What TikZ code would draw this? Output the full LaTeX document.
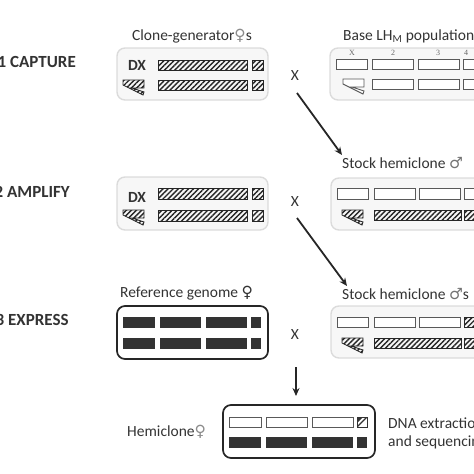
\documentclass[tikz,border=0pt]{standalone}
\usepackage{fontspec}
\setmainfont{Carlito}
\newfontfamily\symfont{DejaVu Sans}
\newfontfamily\chrfont{Liberation Serif}
\usetikzlibrary{patterns.meta,arrows.meta}
\definecolor{txt}{HTML}{333333}
\definecolor{dark}{HTML}{333333}
\newcommand\yshape[3]{\draw[#1] (#2,#3) -- ++(21,0) -- ++(0,8) -- ++(-12,0) -- ++(12,4) -- ++(-1,3) -- ++(-20,-10) -- cycle;}
\tikzset{
  panel/.style={draw=black!14, line width=1.4pt, rounded corners=8pt, fill=black!3},
  darkpanel/.style={draw=black!85, line width=1.7pt, rounded corners=8pt, fill=white},
  openchr/.style={draw=black!65, line width=0.9pt, fill=white},
  hatch/.style={draw=black!85, line width=0.8pt, pattern={Lines[angle=45,distance=3.6pt,line width=1.4pt]}, pattern color=black!85},
  solidchr/.style={fill=dark, draw=none},
  lbl/.style={font=\fontsize{15.5}{18}\selectfont, text=txt, inner sep=0pt},
  stagelbl/.style={font=\bfseries\fontsize{17}{20}\selectfont, text=txt, anchor=west, inner sep=0pt},
  dxlbl/.style={font=\bfseries\fontsize{15.5}{18}\selectfont, text=txt, inner sep=0pt},
  chrlbl/.style={font=\chrfont\fontsize{8}{9}\selectfont, text=black!60, inner sep=0pt},
  arr/.style={-{Stealth[length=8pt,width=7pt]}, line width=1.8pt, draw=black!85},
}
\begin{document}
\begin{tikzpicture}[x=1pt,y=-1pt]
\useasboundingbox (0,0) rectangle (474,474);
\clip (0,0) rectangle (474,474);
% stage labels
\node[stagelbl] (s1) at (-2.5,62) {1 CAPTURE};
\node[stagelbl] (s2) at (-5.5,192) {2 AMPLIFY};
\node[stagelbl] (s3) at (-4.5,320) {3 EXPRESS};
% headings
\node[lbl] (hcg) at (192,36) {Clone-generator{\symfont\color{black!45}♀}s};
\node[lbl, anchor=west] (hbase) at (343,36) {Base LH\textsubscript{M} population};
\node[lbl, anchor=west] (hst1) at (342,163) {Stock hemiclone {\symfont\color{black!55}♂}};
\node[lbl, anchor=west] (hst2) at (342,294) {Stock hemiclone {\symfont\color{black!55}♂}s};
\node[lbl, anchor=west] (href) at (120,293) {Reference genome {\symfont\color{txt}♀}};
\node[lbl, anchor=west] (hhemi) at (127,432) {Hemiclone{\symfont\color{black!45}♀}};
\node[lbl, anchor=west] (dna1) at (388,423) {DNA extraction};
\node[lbl, anchor=west] (dna2) at (388,442) {and sequencing};
% crosses
\node[lbl] (x1) at (295,76) {X};
\node[lbl] (x2) at (295,202) {X};
\node[lbl] (x3) at (295,335) {X};
% ---------- CAPTURE ----------
\draw[panel] (117,48) rectangle (268,100);
\node[dxlbl] (dx1) at (137,65) {DX};
\draw[hatch] (158,60) rectangle (247,70);
\draw[hatch] (252,60) rectangle (263,70);
\yshape{hatch}{123}{80}
\draw[hatch] (158,80) rectangle (247,90);
\draw[hatch] (252,80) rectangle (263,90);
\draw[panel] (330,48) rectangle (500,100);
\node[chrlbl] (cX) at (352,53) {X};
\node[chrlbl] (c2) at (393,53) {2};
\node[chrlbl] (c3) at (438,53) {3};
\node[chrlbl] (c4) at (466,53) {4};
\draw[openchr] (336,59) rectangle (367,69);
\draw[openchr] (372,59) rectangle (413,69);
\draw[openchr] (418,59) rectangle (459,69);
\draw[openchr] (463,59) rectangle (482,69);
\yshape{openchr}{343}{79}
\draw[openchr] (372,79) rectangle (413,89);
\draw[openchr] (418,79) rectangle (459,89);
\draw[openchr] (463,79) rectangle (482,89);
% ---------- AMPLIFY ----------
\draw[panel] (117,177) rectangle (268,230);
\node[dxlbl] (dx2) at (137,197) {DX};
\draw[hatch] (158,188) rectangle (247,199);
\draw[hatch] (252,188) rectangle (263,199);
\yshape{hatch}{123}{210}
\draw[hatch] (158,210) rectangle (247,221);
\draw[hatch] (252,210) rectangle (263,221);
\draw[panel] (331,178) rectangle (500,230);
\draw[openchr] (337,188) rectangle (368,199);
\draw[openchr] (374,188) rectangle (415,199);
\draw[openchr] (419,188) rectangle (460,199);
\draw[openchr] (464,188) rectangle (482,199);
\yshape{hatch}{342}{210}
\draw[hatch] (374,210) rectangle (461,220);
\draw[hatch] (464,210) rectangle (482,220);
% ---------- EXPRESS ----------
\draw[darkpanel] (117,306) rectangle (268,359);
\foreach \ya/\yb in {317/328, 338/349}{
  \fill[solidchr] (123,\ya) rectangle (155,\yb);
  \fill[solidchr] (160,\ya) rectangle (201,\yb);
  \fill[solidchr] (206,\ya) rectangle (247,\yb);
  \fill[solidchr] (251,\ya) rectangle (261,\yb);
}
\draw[panel] (331,306) rectangle (500,358);
\draw[openchr] (337,317) rectangle (368,327);
\draw[openchr] (374,317) rectangle (415,327);
\draw[openchr] (419,317) rectangle (460,327);
\draw[hatch] (464,317) rectangle (482,327);
\yshape{hatch}{342}{338}
\draw[hatch] (374,338) rectangle (461,348);
\draw[hatch] (464,338) rectangle (482,348);
% ---------- HEMICLONE ----------
\draw[darkpanel] (223,405) rectangle (375,458);
\draw[openchr] (229,417) rectangle (261,427);
\draw[openchr] (266,417) rectangle (307,427);
\draw[openchr] (312,417) rectangle (353,427);
\draw[openchr, line width=1pt, draw=dark] (357,417) rectangle (367,427);
\fill[dark] (357,417) -- (363,417) -- (357,423) -- cycle;
\draw[line width=1.2pt, dark] (357.5,426.5) -- (366.5,417.5);
\fill[solidchr] (229,437) rectangle (261,448);
\fill[solidchr] (266,437) rectangle (307,448);
\fill[solidchr] (312,437) rectangle (353,448);
\fill[solidchr] (357,437) rectangle (367,448);
% arrows
\coordinate (a1s) at (297,93);
\coordinate (a1e) at (342,155);
\coordinate (a2s) at (297,218);
\coordinate (a2e) at (347,286);
\coordinate (a3s) at (296,367);
\coordinate (a3e) at (296,396);
\draw[arr] (a1s) -- (a1e);
\draw[arr] (a2s) -- (a2e);
\draw[arr] (a3s) -- (a3e);
\end{tikzpicture}
\end{document}
